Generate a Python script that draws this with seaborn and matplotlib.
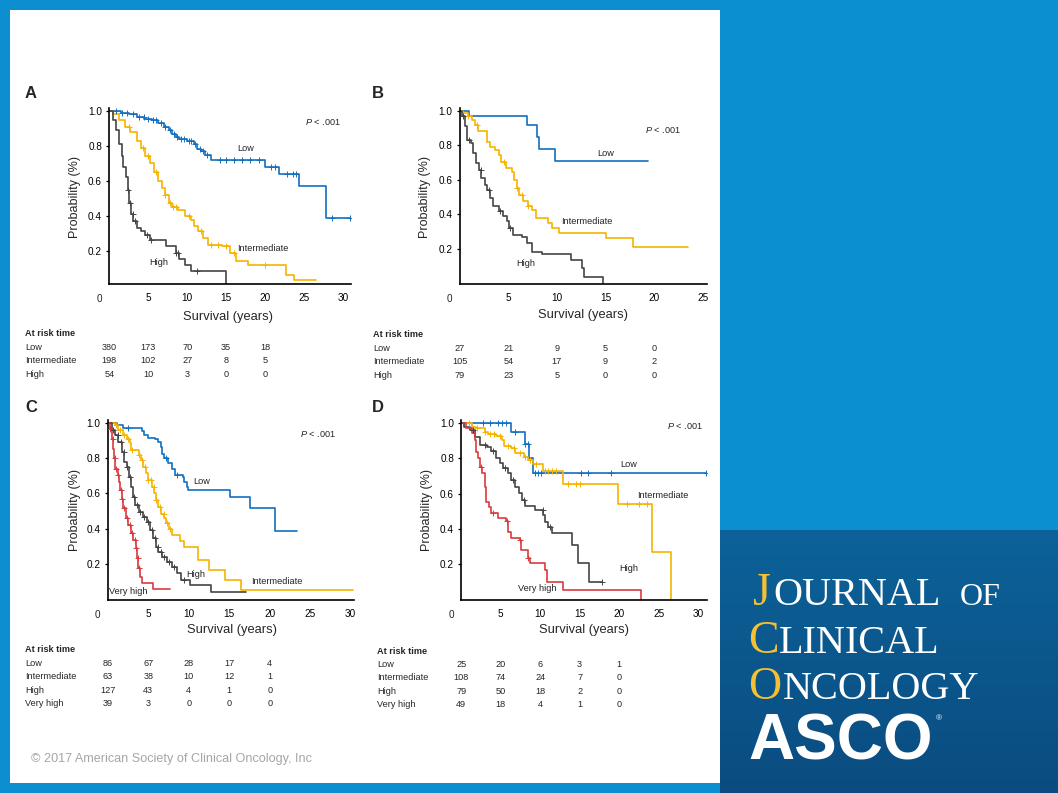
import numpy as np
import pandas as pd
import matplotlib
matplotlib.use('Agg')
import matplotlib.pyplot as plt
import seaborn as sns

sns.set_theme(style='white')
plt.rcParams['font.family'] = ['Liberation Sans', 'DejaVu Sans']
plt.rcParams['mathtext.fontset'] = 'custom'
plt.rcParams['mathtext.it'] = 'Liberation Sans:italic'
plt.rcParams['mathtext.rm'] = 'Liberation Sans'

#%% data (time in years, survival probability)
# panel A
a_low_t = [0, 1.5, 2.5, 3.5, 4.5, 5.5, 6.3, 7.0, 7.6, 8.0, 8.5, 9.0, 10.0, 10.8, 11.3, 11.8, 12.3, 13.0, 20.0, 21.8, 24.3, 27.8, 30.9]
a_low_s = [1.0, 0.99, 0.98, 0.965, 0.955, 0.945, 0.93, 0.91, 0.89, 0.87, 0.85, 0.84, 0.83, 0.81, 0.78, 0.77, 0.75, 0.72, 0.68, 0.64, 0.57, 0.385, 0.385]
a_low_c = [0.8, 1.6, 2.3, 3.0, 3.8, 4.4, 5.0, 5.6, 6.0, 6.6, 7.2, 7.8, 8.3, 8.7, 9.2, 9.6, 10.2, 10.5, 11.0, 11.6, 12.0, 12.5, 14.2, 15.0, 16.0, 17.0, 18.0, 19.2, 20.8, 21.2, 22.8, 23.5, 24.0, 28.5, 30.9]
a_int_t = [0, 0.5, 1.2, 2.0, 2.7, 3.5, 4.1, 4.6, 5.2, 5.7, 6.3, 6.7, 7.1, 7.6, 8.0, 8.8, 9.7, 10.5, 10.9, 11.4, 12.0, 12.7, 14.4, 15.5, 16.3, 17.8, 22.7, 23.7, 26.5]
a_int_s = [1.0, 0.98, 0.95, 0.91, 0.88, 0.83, 0.785, 0.74, 0.70, 0.65, 0.60, 0.56, 0.52, 0.47, 0.45, 0.43, 0.40, 0.375, 0.34, 0.31, 0.27, 0.23, 0.225, 0.185, 0.14, 0.118, 0.06, 0.03, 0.03]
a_int_c = [2.5, 4.3, 5.0, 6.0, 7.2, 7.8, 8.2, 8.6, 10.2, 11.8, 13.0, 14.0, 15.0, 16.0, 20.0]
a_high_t = [0, 0.5, 0.9, 1.3, 1.6, 1.8, 2.1, 2.35, 2.55, 2.8, 3.1, 3.5, 4.1, 4.6, 5.2, 7.3, 8.5, 9.0, 9.7, 10.5, 15.0]
a_high_s = [1.0, 0.95, 0.89, 0.81, 0.74, 0.68, 0.62, 0.55, 0.47, 0.41, 0.37, 0.33, 0.31, 0.29, 0.26, 0.225, 0.185, 0.15, 0.12, 0.085, 0.0]
a_high_c = [2.4, 2.6, 3.0, 3.3, 4.8, 5.3, 8.6, 8.8, 11.2]

# panel B
b_low_t = [0, 1.0, 6.9, 8.0, 8.2, 9.8, 19.4]
b_low_s = [1.0, 0.967, 0.915, 0.85, 0.78, 0.712, 0.712]
b_low_c = []
b_int_t = [0, 0.4, 0.9, 1.25, 1.6, 1.9, 2.8, 3.1, 3.6, 4.0, 4.3, 4.8, 5.35, 5.6, 5.9, 6.15, 6.55, 7.0, 7.4, 7.85, 9.1, 9.5, 10.2, 15.1, 17.8, 23.5]
b_int_s = [1.0, 0.986, 0.97, 0.948, 0.919, 0.88, 0.822, 0.793, 0.774, 0.745, 0.706, 0.668, 0.648, 0.60, 0.552, 0.513, 0.475, 0.446, 0.426, 0.378, 0.349, 0.32, 0.295, 0.266, 0.214, 0.214]
b_int_c = [0.9, 1.8, 4.6, 5.9, 6.4, 7.0]
b_high_t = [0, 0.2, 0.55, 0.75, 1.15, 1.4, 1.7, 1.95, 2.25, 2.6, 2.85, 3.15, 3.45, 4.0, 4.5, 4.85, 5.1, 5.5, 6.4, 6.9, 7.4, 8.5, 11.4, 12.55, 12.8, 14.7]
b_high_s = [1.0, 0.967, 0.909, 0.832, 0.813, 0.755, 0.697, 0.658, 0.61, 0.571, 0.542, 0.494, 0.446, 0.417, 0.388, 0.359, 0.32, 0.281, 0.272, 0.233, 0.185, 0.17, 0.137, 0.089, 0.04, 0.0]
b_high_c = [0.4, 1.0, 2.2, 3.0, 4.2, 5.2]

# panel C
c_low_t = [0, 1.1, 1.9, 4.2, 4.5, 5.0, 5.8, 6.25, 6.55, 6.75, 7.0, 7.4, 7.9, 8.3, 9.3, 9.45, 9.75, 9.95, 15.1, 17.6, 20.6, 23.4]
c_low_s = [1.0, 0.99, 0.97, 0.952, 0.93, 0.915, 0.907, 0.89, 0.864, 0.826, 0.798, 0.77, 0.741, 0.707, 0.694, 0.666, 0.637, 0.619, 0.581, 0.515, 0.387, 0.387]
c_low_c = [2.5, 7.2, 8.5]
c_int_t = [0, 0.9, 1.3, 1.9, 2.35, 2.75, 2.85, 3.8, 4.1, 4.4, 4.7, 5.0, 5.4, 5.75, 5.9, 6.25, 6.55, 7.0, 7.15, 7.5, 7.9, 8.9, 9.45, 11.1, 12.5, 14.5, 16.4, 30.3]
c_int_s = [1.0, 0.986, 0.958, 0.933, 0.911, 0.883, 0.845, 0.817, 0.788, 0.75, 0.713, 0.675, 0.637, 0.60, 0.562, 0.524, 0.486, 0.458, 0.43, 0.401, 0.364, 0.33, 0.298, 0.222, 0.166, 0.109, 0.054, 0.054]
c_int_c = [1.0, 1.5, 2.0, 2.5, 3.0, 3.8, 4.2, 4.6, 5.0, 5.3, 5.7, 6.0, 6.5, 6.9, 7.3, 7.7]
c_high_t = [0, 0.5, 0.9, 1.3, 1.7, 2.05, 2.35, 2.6, 2.85, 3.05, 3.3, 3.8, 4.4, 4.9, 5.2, 5.6, 5.9, 6.25, 6.75, 7.25, 7.9, 8.5, 9.05, 10.15, 12.7, 17.1]
c_high_s = [1.0, 0.96, 0.93, 0.89, 0.836, 0.779, 0.75, 0.693, 0.637, 0.581, 0.534, 0.496, 0.468, 0.439, 0.392, 0.345, 0.298, 0.27, 0.242, 0.213, 0.185, 0.147, 0.11, 0.081, 0.043, 0.043]
c_high_c = [0.7, 1.2, 1.6, 2.0, 2.4, 2.8, 3.2, 3.6, 4.0, 4.5, 5.0, 5.4, 5.8, 6.2, 6.6, 7.0, 7.6, 8.2, 9.4]
c_vhigh_t = [0, 0.25, 0.5, 0.7, 0.8, 0.95, 1.2, 1.4, 1.5, 1.7, 1.9, 2.2, 2.55, 2.85, 3.15, 3.45, 3.55, 3.75, 4.0, 4.2, 5.6, 7.7]
c_vhigh_s = [1.0, 0.967, 0.911, 0.854, 0.798, 0.741, 0.703, 0.666, 0.619, 0.571, 0.515, 0.458, 0.421, 0.373, 0.336, 0.289, 0.232, 0.175, 0.128, 0.09, 0.058, 0.058]
c_vhigh_c = [0.3, 0.6, 0.85, 1.05, 1.3, 1.6, 1.8, 2.0, 2.4, 2.7, 3.0, 3.3, 3.5, 3.7, 3.9]

# panel D
d_low_t = [0, 6.35, 8.05, 8.55, 9.1, 31.1]
d_low_s = [1.0, 0.95, 0.878, 0.803, 0.714, 0.714]
d_low_c = [2.8, 3.6, 4.7, 5.2, 5.7, 6.8, 8.1, 8.4, 9.4, 9.7, 10.1, 15.2, 16.0, 19.0, 31.0]
d_int_t = [0, 1.35, 1.9, 2.95, 3.4, 4.45, 5.1, 5.4, 6.35, 6.75, 7.95, 8.45, 9.1, 10.4, 12.9, 19.9, 24.2, 26.6]
d_int_s = [1.0, 0.978, 0.969, 0.95, 0.935, 0.927, 0.903, 0.871, 0.856, 0.828, 0.809, 0.79, 0.765, 0.727, 0.652, 0.541, 0.271, 0.0]
d_int_c = [1.0, 2.0, 3.0, 3.6, 4.2, 4.9, 5.9, 6.7, 7.5, 8.1, 8.7, 9.5, 10.6, 11.0, 11.5, 12.0, 13.5, 14.5, 15.0, 21.0, 22.5, 23.5]
d_high_t = [0, 0.4, 1.05, 1.7, 2.35, 3.3, 3.8, 4.45, 4.85, 5.3, 5.95, 6.35, 6.75, 7.3, 7.7, 8.05, 9.3, 10.4, 10.6, 11.0, 11.45, 14.05, 14.8, 16.2, 17.8]
d_high_s = [1.0, 0.978, 0.959, 0.922, 0.875, 0.865, 0.84, 0.799, 0.771, 0.746, 0.714, 0.677, 0.639, 0.601, 0.564, 0.532, 0.507, 0.479, 0.441, 0.413, 0.375, 0.309, 0.206, 0.102, 0.102]
d_high_c = [1.5, 3.0, 4.0, 5.5, 6.5, 8.0, 10.3, 11.2, 17.8]
d_vhigh_t = [0, 0.65, 1.35, 1.7, 1.9, 2.1, 2.35, 2.65, 2.95, 3.15, 3.45, 3.8, 4.65, 5.7, 5.95, 6.35, 7.4, 7.55, 8.4, 8.65, 10.6, 10.9, 12.9, 22.8]
d_vhigh_s = [1.0, 0.968, 0.94, 0.903, 0.837, 0.799, 0.752, 0.714, 0.639, 0.554, 0.526, 0.488, 0.464, 0.445, 0.385, 0.351, 0.338, 0.281, 0.234, 0.206, 0.168, 0.102, 0.055, 0.0]
d_vhigh_c = [2.5, 4.0, 5.8, 7.5, 8.5]

# numbers at risk at 0, 5, 10, 15, 20 years
risk_times = [0, 5, 10, 15, 20]
a_risk_low = [380, 173, 70, 35, 18]
a_risk_int = [198, 102, 27, 8, 5]
a_risk_high = [54, 10, 3, 0, 0]
b_risk_low = [27, 21, 9, 5, 0]
b_risk_int = [105, 54, 17, 9, 2]
b_risk_high = [79, 23, 5, 0, 0]
c_risk_low = [86, 67, 28, 17, 4]
c_risk_int = [63, 38, 10, 12, 1]
c_risk_high = [127, 43, 4, 1, 0]
c_risk_vhigh = [39, 3, 0, 0, 0]
d_risk_low = [25, 20, 6, 3, 1]
d_risk_int = [108, 74, 24, 7, 0]
d_risk_high = [79, 50, 18, 2, 0]
d_risk_vhigh = [49, 18, 4, 1, 0]

groups = ['Low', 'Intermediate', 'High', 'Very high']
colors = {'Low': '#1270c0', 'Intermediate': '#f6b300', 'High': '#444444', 'Very high': '#d93b3d'}

#%% layout helpers (pixels of the 1058x793 picture)
W, H = 1058, 793
fig = plt.figure(figsize=(W / 100, H / 100), dpi=100)
fig.patch.set_facecolor('#0b8fd0')


def fx(x):
    return x / W


def fy(y):
    return 1 - y / H


def px_axes(l, t, r, b):
    return fig.add_axes([fx(l), fy(b), (r - l) / W, (b - t) / H])


# white page and logo box
bg = px_axes(10, 10, 720, 783)
bg.set_facecolor('white')
bg.set_xticks([]); bg.set_yticks([])
for s in bg.spines.values():
    s.set_visible(False)

logo = px_axes(720, 530, 1058, 793)
grad = np.linspace(0, 1, 100).reshape(-1, 1)
cmap = matplotlib.colors.LinearSegmentedColormap.from_list('jco', ['#0c6299', '#0a4c80'])
logo.imshow(grad, aspect='auto', cmap=cmap, extent=[0, 1, 0, 1])
logo.set_xticks([]); logo.set_yticks([])
for s in logo.spines.values():
    s.set_visible(False)


def step_value(ts, ss, t):
    idx = np.searchsorted(ts, t, side='right') - 1
    return np.asarray(ss)[idx]


panels = [
    dict(letter='A', box=(109.3, 108, 351, 284.3), xlim=31, ylo=0.008,
         curves=[('Low', a_low_t, a_low_s, a_low_c), ('Intermediate', a_int_t, a_int_s, a_int_c),
                 ('High', a_high_t, a_high_s, a_high_c)],
         labels=[('Low', 17.5, 0.787), ('Intermediate', 19.7, 0.215), ('High', 6.4, 0.135)],
         p=(27.4, 0.935), risk=[a_risk_low, a_risk_int, a_risk_high],
         letter_xy=(25, 94), xlab=(228, 317), ylab=(75, 197), tab=(25, 334)),
    dict(letter='B', box=(459.6, 108, 706.7, 284), xlim=25.4, ylo=-0.003,
         curves=[('Low', b_low_t, b_low_s, b_low_c), ('Intermediate', b_int_t, b_int_s, b_int_c),
                 ('High', b_high_t, b_high_s, b_high_c)],
         labels=[('Low', 15.0, 0.755), ('Intermediate', 13.1, 0.358), ('High', 6.8, 0.117)],
         p=(20.9, 0.89), risk=[b_risk_low, b_risk_int, b_risk_high],
         letter_xy=(372, 94), xlab=(583, 315), ylab=(425, 197), tab=(373, 335)),
    dict(letter='C', box=(107.8, 420, 354, 600), xlim=30.4, ylo=-0.004,
         curves=[('Low', c_low_t, c_low_s, c_low_c), ('Intermediate', c_int_t, c_int_s, c_int_c),
                 ('High', c_high_t, c_high_s, c_high_c), ('Very high', c_vhigh_t, c_vhigh_s, c_vhigh_c)],
         labels=[('Low', 11.6, 0.666), ('Intermediate', 20.9, 0.10), ('High', 10.8, 0.138),
                 ('Very high', 2.5, 0.047)],
         p=(26.0, 0.934), risk=[c_risk_low, c_risk_int, c_risk_high, c_risk_vhigh],
         letter_xy=(25, 407), xlab=(232, 630), ylab=(75, 510), tab=(25, 650)),
    dict(letter='D', box=(461.3, 420, 706.7, 600), xlim=31.1, ylo=-0.002,
         curves=[('Low', d_low_t, d_low_s, d_low_c), ('Intermediate', d_int_t, d_int_s, d_int_c),
                 ('High', d_high_t, d_high_s, d_high_c), ('Very high', d_vhigh_t, d_vhigh_s, d_vhigh_c)],
         labels=[('Low', 21.2, 0.765), ('Intermediate', 25.6, 0.588), ('High', 21.2, 0.177),
                 ('Very high', 9.6, 0.062)],
         p=(28.4, 0.984), risk=[d_risk_low, d_risk_int, d_risk_high, d_risk_vhigh],
         letter_xy=(372, 407), xlab=(584, 630), ylab=(427, 510), tab=(377, 651)),
]

for pn in panels:
    ax = px_axes(*pn['box'])
    ax.set_facecolor('none')
    frames = []
    for g, ts, ss, cs in pn['curves']:
        frames.append(pd.DataFrame({'time': ts, 'surv': ss, 'group': g}))
    df = pd.concat(frames, ignore_index=True)
    sns.lineplot(data=df, x='time', y='surv', hue='group', palette=colors,
                 estimator=None, drawstyle='steps-post', linewidth=1.2,
                 legend=False, ax=ax)
    for g, ts, ss, cs in pn['curves']:
        if len(cs):
            ax.scatter(cs, step_value(ts, ss, cs), marker='+', s=13,
                       color=colors[g], linewidths=0.7, zorder=3)

    ax.set_xlim(0, pn['xlim'])
    ax.set_ylim(pn['ylo'], 1.016)
    ax.set_xticks([5, 10, 15, 20, 25, 30] if pn['xlim'] > 30 else [5, 10, 15, 20, 25])
    ax.set_yticks([0.2, 0.4, 0.6, 0.8, 1.0])
    ax.set_yticklabels(['0.2', '0.4', '0.6', '0.8', '1.0'])
    ax.set_xlabel(''); ax.set_ylabel('')
    ax.tick_params(axis='y', direction='out', length=2.2, width=0.9,
                   labelsize=7.2, pad=3, colors='black', left=True)
    ax.tick_params(axis='x', length=0, labelsize=7.2, pad=6.5, colors='black')
    ax.annotate('0', xy=(0, 0), xycoords=('data', 'axes fraction'), xytext=(-10, -15),
                textcoords='offset pixels', ha='center', va='center', fontsize=7.2)
    sns.despine(ax=ax)
    for s in ['left', 'bottom']:
        ax.spines[s].set_color('black')
        ax.spines[s].set_linewidth(1.2)

    for name, tx, ty in pn['labels']:
        ax.text(tx, ty, name, ha='center', va='center', fontsize=6.6, color='#222222')
    ax.text(pn['p'][0], pn['p'][1], r'$P$ < .001', ha='center', va='center', fontsize=6.6)

    fig.text(fx(pn['letter_xy'][0]), fy(pn['letter_xy'][1]), pn['letter'],
             fontsize=12, fontweight='bold', ha='left', va='center')
    fig.text(fx(pn['xlab'][0]), fy(pn['xlab'][1]), 'Survival (years)',
             fontsize=9.3, ha='center', va='center')
    fig.text(fx(pn['ylab'][0]), fy(pn['ylab'][1]), 'Probability (%)',
             fontsize=9, ha='center', va='center', rotation=90)

    # at-risk table
    tx, ty = pn['tab']
    fig.text(fx(tx), fy(ty), 'At risk time', fontsize=6.6, fontweight='bold',
             ha='left', va='center')
    trans = matplotlib.transforms.blended_transform_factory(ax.transData, fig.transFigure)
    for i, row in enumerate(pn['risk']):
        ry = fy(ty + 13.4 * (i + 1))
        fig.text(fx(tx), ry, groups[i], fontsize=6.6, ha='left', va='center')
        for t, n in zip(risk_times, row):
            ax.text(t, ry, str(n), transform=trans, fontsize=6.6, ha='center',
                    va='center', clip_on=False)

fig.text(fx(31), fy(759), '\u00a9 2017 American Society of Clinical Oncology, Inc',
         fontsize=9.1, color='#a6a6a6', ha='left', va='center')

# journal logo
gold = '#f6c033'
serif = ['Liberation Serif', 'DejaVu Serif']
for big, rest, xb, xr, yb in [('J', 'OURNAL', 753, 773, 605),
                              ('C', 'LINICAL', 748, 779, 653),
                              ('O', 'NCOLOGY', 748, 783, 699)]:
    fig.text(fx(xb), fy(yb), big, fontsize=33, color=gold, family=serif,
             ha='left', va='baseline')
    fig.text(fx(xr), fy(yb), rest, fontsize=29, color='white', family=serif,
             ha='left', va='baseline')
fig.text(fx(960), fy(605), 'OF', fontsize=23, color='white', family=serif,
         ha='left', va='baseline')
fig.text(fx(748), fy(759), 'ASCO', fontsize=46, color='white', fontweight='bold',
         ha='left', va='baseline')
fig.text(fx(936), fy(719), '\u00ae', fontsize=6, color='white', ha='left', va='center')

fig.savefig('out.png', dpi=100, facecolor=fig.get_facecolor())
